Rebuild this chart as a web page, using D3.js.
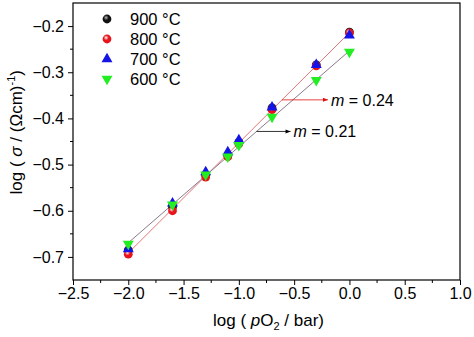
<!DOCTYPE html>
<html>
<head>
<meta charset="utf-8">
<script src="https://cdn.jsdelivr.net/npm/d3@7/dist/d3.min.js"></script>
<style>
  body { margin: 0; background: #fff; }
  text { font-family: "Liberation Sans", Arial, sans-serif; fill: #000; }
</style>
</head>
<body>
<svg id="chart"></svg>
<script>
// data
const logPO2 = [-2.0, -1.6, -1.3, -1.1, -1.0, -0.7, -0.3, 0.0];
const sigma900 = [-0.685, -0.592, -0.522, -0.480, -0.452, -0.377, -0.284, -0.213];
const sigma800 = [-0.694, -0.600, -0.527, -0.483, -0.455, -0.381, -0.286, -0.215];
const sigma700 = [-0.683, -0.584, -0.516, -0.473, -0.447, -0.376, -0.284, -0.220];
const sigma600 = [-0.672, -0.587, -0.522, -0.483, -0.458, -0.397, -0.317, -0.256];
const seriesNames = ["900 °C", "800 °C", "700 °C", "600 °C"];
const xTicks = [-2.5, -2.0, -1.5, -1.0, -0.5, 0.0, 0.5, 1.0];
const yTicks = [-0.7, -0.6, -0.5, -0.4, -0.3, -0.2];
const slopeLabels = ["m = 0.24", "m = 0.21"];

const width = 474, height = 337;
const margin = { top: 3, right: 14, bottom: 57, left: 73 };

const svg = d3.select("#chart").attr("width", width).attr("height", height);

const x = d3.scaleLinear().domain([-2.5, 1.0]).range([margin.left, width - margin.right]);
const y = d3.scaleLinear().domain([-0.75, -0.15]).range([height - margin.bottom, margin.top]);

// gradients for the shaded balls
const defs = svg.append("defs");
const ball = (id, dark, light) => {
  const g = defs.append("radialGradient").attr("id", id)
    .attr("cx", "40%").attr("cy", "35%").attr("r", "65%");
  g.append("stop").attr("offset", "0%").attr("stop-color", light);
  g.append("stop").attr("offset", "45%").attr("stop-color", dark);
  g.append("stop").attr("offset", "100%").attr("stop-color", dark);
};
ball("g900", "#111", "#bbb");
ball("g800", "#e8141c", "#fff");

const series = [
  { name: seriesNames[0], values: sigma900, shape: "ball", fill: "url(#g900)" },
  { name: seriesNames[1], values: sigma800, shape: "ball", fill: "url(#g800)" },
  { name: seriesNames[2], values: sigma700, shape: "up", fill: "#1414e6" },
  { name: seriesNames[3], values: sigma600, shape: "down", fill: "#22ee22" },
];

// axes
const xAxis = d3.axisBottom(x).tickValues(xTicks).tickFormat(d3.format(".1f")).tickSize(5).tickPadding(3);
const yAxis = d3.axisLeft(y).tickValues(yTicks).tickFormat(d3.format(".1f")).tickSize(5).tickPadding(4);

const gx = svg.append("g").attr("transform", `translate(0,${height - margin.bottom})`).call(xAxis);
const gy = svg.append("g").attr("transform", `translate(${margin.left},0)`).call(yAxis);

// minor ticks
gx.selectAll(".minor").data(d3.range(-2.25, 1.0, 0.5)).enter().append("line")
  .attr("x1", d => x(d)).attr("x2", d => x(d)).attr("y1", 0).attr("y2", 3)
  .attr("stroke", "#000");
gy.selectAll(".minor").data(d3.range(-0.65, -0.15, 0.1)).enter().append("line")
  .attr("y1", d => y(d)).attr("y2", d => y(d)).attr("x1", 0).attr("x2", -3)
  .attr("stroke", "#000");

[gx, gy].forEach(g => {
  g.select(".domain").remove();
  g.selectAll("text").attr("font-size", 16).style("font-family", '"Liberation Sans", Arial, sans-serif');
  g.selectAll("line").attr("stroke", "#000");
});

// frame
svg.append("rect")
  .attr("x", margin.left).attr("y", margin.top)
  .attr("width", width - margin.left - margin.right)
  .attr("height", height - margin.top - margin.bottom)
  .attr("fill", "none").attr("stroke", "#000").attr("stroke-width", 1.2);

// linear fits
const fit = (xs, ys) => {
  const mx = d3.mean(xs), my = d3.mean(ys);
  const m = d3.sum(xs, (v, i) => (v - mx) * (ys[i] - my)) / d3.sum(xs, v => (v - mx) ** 2);
  return { m, b: my - m * mx };
};
const fits = [
  { f: fit(logPO2, sigma800.map((v, i) => (v + sigma900[i]) / 2)), color: "#e07878", arrow: "#e01010", at: -0.61, len: 46, label: slopeLabels[0] },
  { f: fit(logPO2, sigma600), color: "#8a7a8a", arrow: "#000", at: -0.84, len: 34, label: slopeLabels[1] },
];

fits.forEach(l => {
  const xs = d3.extent(logPO2);
  svg.append("line")
    .attr("x1", x(xs[0])).attr("y1", y(l.f.m * xs[0] + l.f.b))
    .attr("x2", x(xs[1])).attr("y2", y(l.f.m * xs[1] + l.f.b))
    .attr("stroke", l.color).attr("stroke-width", 1);
});

// markers
const tri = d3.symbol().type(d3.symbolTriangle).size(52);
series.forEach(s => {
  const g = svg.append("g");
  const pts = g.selectAll("path").data(logPO2.map((v, i) => [v, s.values[i]])).enter();
  if (s.shape === "ball") {
    pts.append("circle").attr("cx", d => x(d[0])).attr("cy", d => y(d[1])).attr("r", 4.4)
      .attr("fill", s.fill);
  } else {
    pts.append("path").attr("d", tri)
      .attr("transform", d => `translate(${x(d[0])},${y(d[1])})${s.shape === "down" ? " rotate(180)" : ""}`)
      .attr("fill", s.fill);
  }
});

// arrows with slope labels
defs.selectAll("marker").data(fits).enter().append("marker")
  .attr("id", (d, i) => "arr" + i)
  .attr("viewBox", "0 0 10 10").attr("refX", 10).attr("refY", 5)
  .attr("markerWidth", 7).attr("markerHeight", 5).attr("orient", "auto")
  .attr("markerUnits", "userSpaceOnUse")
  .append("path").attr("d", "M0,1 L10,5 L0,9 Z").attr("fill", d => d.arrow);

fits.forEach((l, i) => {
  const px = x(l.at), py = y(l.f.m * l.at + l.f.b);
  svg.append("line")
    .attr("x1", px).attr("y1", py).attr("x2", px + l.len).attr("y2", py)
    .attr("stroke", l.arrow).attr("stroke-width", 0.8)
    .attr("marker-end", `url(#arr${i})`);
  const t = svg.append("text").attr("x", px + l.len + 3).attr("y", py + 6).attr("font-size", 16);
  t.append("tspan").attr("font-style", "italic").text(l.label.slice(0, 1));
  t.append("tspan").text(l.label.slice(1));
});

// legend
const legend = svg.append("g").attr("transform", "translate(107,19)");
series.forEach((s, i) => {
  const row = legend.append("g").attr("transform", `translate(0,${i * 20})`);
  if (s.shape === "ball") {
    row.append("circle").attr("r", 4.4).attr("fill", s.fill);
  } else {
    row.append("path").attr("d", tri).attr("fill", s.fill)
      .attr("transform", s.shape === "down" ? "rotate(180)" : null);
  }
  row.append("text").attr("x", 23).attr("y", 6).attr("font-size", 16.5).text(s.name);
});

// axis titles
const xt = svg.append("text").attr("x", x(-0.75) + 2).attr("y", 326).attr("text-anchor", "middle").attr("font-size", 17);
xt.append("tspan").text("log ( ");
xt.append("tspan").attr("font-style", "italic").text("p");
xt.append("tspan").text("O");
xt.append("tspan").attr("font-size", 11).attr("dy", 4).text("2");
xt.append("tspan").attr("dy", -4).text(" / bar)");

const yt = svg.append("text").attr("transform", `translate(22,${y(-0.43)}) rotate(-90)`)
  .attr("text-anchor", "middle").attr("font-size", 17);
yt.append("tspan").text("log ( ");
yt.append("tspan").attr("font-style", "italic").text("σ");
yt.append("tspan").text(" / (Ωcm)");
yt.append("tspan").attr("font-size", 11).attr("dy", -7).text("-1");
yt.append("tspan").attr("dy", 7).text(")");
</script>
</body>
</html>
